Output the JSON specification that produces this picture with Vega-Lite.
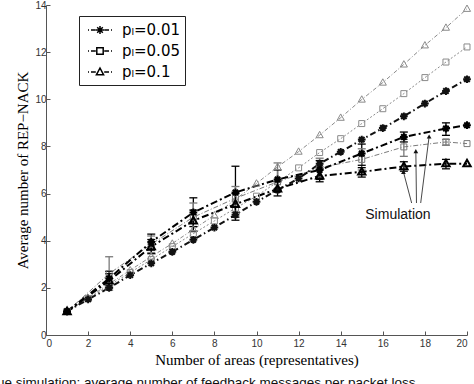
{
  "$schema": "https://vega.github.io/schema/vega-lite/v6.json",
  "width": 421,
  "height": 330,
  "autosize": "none",
  "padding": {"left": 46, "top": 5, "right": 7, "bottom": 49},
  "background": "white",
  "title": {
    "text": "ue simulation: average number of feedback messages per packet loss",
    "orient": "bottom",
    "anchor": "start",
    "dx": -19,
    "offset": 9,
    "font": "Liberation Sans",
    "fontSize": 13.5,
    "fontWeight": "normal",
    "color": "#111"
  },
  "config": {
    "view": {"stroke": null},
    "axis": {
      "grid": false,
      "domainColor": "#555",
      "tickColor": "#555",
      "labelFont": "Liberation Sans",
      "labelFontSize": 10,
      "labelColor": "#333",
      "titleFont": "Liberation Serif",
      "titleFontSize": 15,
      "titleFontWeight": "normal",
      "titleColor": "#000"
    }
  },
  "datasets": {
    "curves": [
      {"id": "a01", "x": 1, "y": 1}, {"id": "a01", "x": 2, "y": 1.51}, {"id": "a01", "x": 3, "y": 2.0}, {"id": "a01", "x": 4, "y": 2.54}, {"id": "a01", "x": 5, "y": 3.04}, {"id": "a01", "x": 6, "y": 3.53}, {"id": "a01", "x": 7, "y": 4.04}, {"id": "a01", "x": 8, "y": 4.56}, {"id": "a01", "x": 9, "y": 5.1}, {"id": "a01", "x": 10, "y": 5.65}, {"id": "a01", "x": 11, "y": 6.15}, {"id": "a01", "x": 12, "y": 6.64}, {"id": "a01", "x": 13, "y": 7.27}, {"id": "a01", "x": 14, "y": 7.77}, {"id": "a01", "x": 15, "y": 8.29}, {"id": "a01", "x": 16, "y": 8.78}, {"id": "a01", "x": 17, "y": 9.28}, {"id": "a01", "x": 18, "y": 9.82}, {"id": "a01", "x": 19, "y": 10.35}, {"id": "a01", "x": 20, "y": 10.85},
      {"id": "a05", "x": 1, "y": 1}, {"id": "a05", "x": 2, "y": 1.55}, {"id": "a05", "x": 3, "y": 2.1}, {"id": "a05", "x": 4, "y": 2.65}, {"id": "a05", "x": 5, "y": 3.2}, {"id": "a05", "x": 6, "y": 3.75}, {"id": "a05", "x": 7, "y": 4.3}, {"id": "a05", "x": 8, "y": 4.84}, {"id": "a05", "x": 9, "y": 5.38}, {"id": "a05", "x": 10, "y": 5.89}, {"id": "a05", "x": 11, "y": 6.5}, {"id": "a05", "x": 12, "y": 7.09}, {"id": "a05", "x": 13, "y": 7.74}, {"id": "a05", "x": 14, "y": 8.33}, {"id": "a05", "x": 15, "y": 8.97}, {"id": "a05", "x": 16, "y": 9.6}, {"id": "a05", "x": 17, "y": 10.24}, {"id": "a05", "x": 18, "y": 10.92}, {"id": "a05", "x": 19, "y": 11.58}, {"id": "a05", "x": 20, "y": 12.22},
      {"id": "a10", "x": 1, "y": 1}, {"id": "a10", "x": 2, "y": 1.58}, {"id": "a10", "x": 3, "y": 2.17}, {"id": "a10", "x": 4, "y": 2.75}, {"id": "a10", "x": 5, "y": 3.33}, {"id": "a10", "x": 6, "y": 3.88}, {"id": "a10", "x": 7, "y": 4.48}, {"id": "a10", "x": 8, "y": 5.08}, {"id": "a10", "x": 9, "y": 5.75}, {"id": "a10", "x": 10, "y": 6.43}, {"id": "a10", "x": 11, "y": 7.13}, {"id": "a10", "x": 12, "y": 7.78}, {"id": "a10", "x": 13, "y": 8.48}, {"id": "a10", "x": 14, "y": 9.22}, {"id": "a10", "x": 15, "y": 9.99}, {"id": "a10", "x": 16, "y": 10.71}, {"id": "a10", "x": 17, "y": 11.48}, {"id": "a10", "x": 18, "y": 12.29}, {"id": "a10", "x": 19, "y": 13.04}, {"id": "a10", "x": 20, "y": 13.84},
      {"id": "s01", "x": 1, "y": 1}, {"id": "s01", "x": 3, "y": 2.4}, {"id": "s01", "x": 5, "y": 3.95}, {"id": "s01", "x": 7, "y": 5.2}, {"id": "s01", "x": 9, "y": 6.05}, {"id": "s01", "x": 11, "y": 6.6}, {"id": "s01", "x": 13, "y": 7.0}, {"id": "s01", "x": 15, "y": 7.7}, {"id": "s01", "x": 17, "y": 8.4}, {"id": "s01", "x": 19, "y": 8.76}, {"id": "s01", "x": 20, "y": 8.9},
      {"id": "s05", "x": 1, "y": 1}, {"id": "s05", "x": 3, "y": 2.6}, {"id": "s05", "x": 5, "y": 3.85}, {"id": "s05", "x": 7, "y": 5.0}, {"id": "s05", "x": 9, "y": 5.8}, {"id": "s05", "x": 11, "y": 6.5}, {"id": "s05", "x": 13, "y": 7.1}, {"id": "s05", "x": 15, "y": 7.45}, {"id": "s05", "x": 17, "y": 7.98}, {"id": "s05", "x": 19, "y": 8.19}, {"id": "s05", "x": 20, "y": 8.12},
      {"id": "s10", "x": 1, "y": 1}, {"id": "s10", "x": 3, "y": 2.3}, {"id": "s10", "x": 5, "y": 3.75}, {"id": "s10", "x": 7, "y": 4.85}, {"id": "s10", "x": 9, "y": 5.55}, {"id": "s10", "x": 11, "y": 6.2}, {"id": "s10", "x": 13, "y": 6.75}, {"id": "s10", "x": 15, "y": 6.92}, {"id": "s10", "x": 17, "y": 7.15}, {"id": "s10", "x": 19, "y": 7.27}, {"id": "s10", "x": 20, "y": 7.27}
    ],
    "errs": [
      {"id": "s01", "x": 3, "lo": 2.1, "hi": 2.7}, {"id": "s01", "x": 5, "lo": 3.6, "hi": 4.28}, {"id": "s01", "x": 7, "lo": 4.6, "hi": 5.82}, {"id": "s01", "x": 9, "lo": 4.87, "hi": 7.16}, {"id": "s01", "x": 11, "lo": 6.2, "hi": 7.0}, {"id": "s01", "x": 13, "lo": 6.6, "hi": 7.4}, {"id": "s01", "x": 15, "lo": 7.2, "hi": 8.1}, {"id": "s01", "x": 17, "lo": 8.19, "hi": 8.61}, {"id": "s01", "x": 19, "lo": 8.47, "hi": 9.0},
      {"id": "s05", "x": 3, "lo": 1.9, "hi": 3.32}, {"id": "s05", "x": 5, "lo": 3.5, "hi": 4.2}, {"id": "s05", "x": 7, "lo": 4.4, "hi": 5.6}, {"id": "s05", "x": 9, "lo": 5.2, "hi": 6.3}, {"id": "s05", "x": 11, "lo": 6.1, "hi": 7.3}, {"id": "s05", "x": 13, "lo": 6.7, "hi": 7.5}, {"id": "s05", "x": 15, "lo": 7.0, "hi": 7.9}, {"id": "s05", "x": 17, "lo": 7.58, "hi": 8.3}, {"id": "s05", "x": 19, "lo": 8.05, "hi": 8.3},
      {"id": "s10", "x": 3, "lo": 2.0, "hi": 2.6}, {"id": "s10", "x": 5, "lo": 3.45, "hi": 4.05}, {"id": "s10", "x": 7, "lo": 4.4, "hi": 5.3}, {"id": "s10", "x": 9, "lo": 5.0, "hi": 6.0}, {"id": "s10", "x": 11, "lo": 5.9, "hi": 6.5}, {"id": "s10", "x": 13, "lo": 6.5, "hi": 7.05}, {"id": "s10", "x": 15, "lo": 6.7, "hi": 7.1}, {"id": "s10", "x": 17, "lo": 6.95, "hi": 7.35}, {"id": "s10", "x": 19, "lo": 7.05, "hi": 7.45}
    ],
    "arrows": [
      {"x": 17.37, "y": 5.6, "x2": 16.98, "y2": 6.92},
      {"x": 17.6, "y": 5.6, "x2": 17.57, "y2": 7.8},
      {"x": 17.8, "y": 5.6, "x2": 18.2, "y2": 8.42}
    ],
    "notes": [{"label": "Simulation", "x": 16.72, "y": 5.08}],
    "keys": [
      {"series": "pₗ=0.01", "x": 1, "y": 1},
      {"series": "pₗ=0.05", "x": 1, "y": 1},
      {"series": "pₗ=0.1", "x": 1, "y": 1}
    ]
  },
  "resolve": {"scale": {"shape": "independent"}},
  "layer": [
    {
      "data": {"name": "curves"},
      "transform": [{"filter": "indexof(['a05','a10','s05'], datum.id) >= 0"}],
      "mark": {"type": "line", "strokeWidth": 1},
      "encoding": {
        "x": {"field": "x", "type": "quantitative", "scale": {"domain": [0, 20], "nice": false},
              "axis": {"values": [0,2,4,6,8,10,12,14,16,18,20], "tickSize": -4, "labelPadding": 7, "title": "Number of areas (representatives)", "titlePadding": 4}},
        "y": {"field": "y", "type": "quantitative", "scale": {"domain": [0, 14], "nice": false},
              "axis": {"values": [0,2,4,6,8,10,12,14], "tickSize": -4, "labelPadding": 4, "title": "Average number of REP−NACK", "titlePadding": 4}},
        "detail": {"field": "id"},
        "color": {"field": "id", "scale": {"domain": ["a01","a05","a10","s01","s05","s10"], "range": ["#111","#8a8a8a","#8a8a8a","#000","#7a7a7a","#000"]}, "legend": null},
        "strokeDash": {"field": "id", "scale": {"domain": ["a01","a05","a10","s01","s05","s10"], "range": [[6,3,1.5,3],[2,2],[4,2,1,2],[7,3,2,3],[5,2,1,2],[7,3,2,3]]}, "legend": null}
      }
    },
    {
      "data": {"name": "curves"},
      "transform": [{"filter": "indexof(['a01','s01','s10'], datum.id) >= 0"}],
      "mark": {"type": "line", "strokeWidth": 2},
      "encoding": {
        "x": {"field": "x", "type": "quantitative", "scale": {"domain": [0, 20], "nice": false}},
        "y": {"field": "y", "type": "quantitative", "scale": {"domain": [0, 14], "nice": false}},
        "detail": {"field": "id"},
        "color": {"field": "id", "scale": {"domain": ["a01","a05","a10","s01","s05","s10"], "range": ["#111","#8a8a8a","#8a8a8a","#000","#7a7a7a","#000"]}, "legend": null},
        "strokeDash": {"field": "id", "scale": {"domain": ["a01","a05","a10","s01","s05","s10"], "range": [[6,3,1.5,3],[2,2],[4,2,1,2],[7,3,2,3],[5,2,1,2],[7,3,2,3]]}, "legend": null}
      }
    },
    {
      "data": {"name": "errs"},
      "mark": {"type": "rule", "strokeWidth": 1.3},
      "encoding": {
        "x": {"field": "x", "type": "quantitative", "scale": {"domain": [0, 20], "nice": false}},
        "y": {"field": "lo", "type": "quantitative", "scale": {"domain": [0, 14], "nice": false}},
        "y2": {"field": "hi"},
        "color": {"field": "id", "scale": {"domain": ["a01","a05","a10","s01","s05","s10"], "range": ["#111","#8a8a8a","#8a8a8a","#000","#7a7a7a","#000"]}, "legend": null}
      }
    },
    {
      "data": {"name": "errs"},
      "mark": {"type": "point", "shape": "stroke", "size": 64, "strokeWidth": 1.3, "opacity": 1},
      "encoding": {
        "x": {"field": "x", "type": "quantitative", "scale": {"domain": [0, 20], "nice": false}},
        "y": {"field": "lo", "type": "quantitative", "scale": {"domain": [0, 14], "nice": false}},
        "color": {"field": "id", "scale": {"domain": ["a01","a05","a10","s01","s05","s10"], "range": ["#111","#8a8a8a","#8a8a8a","#000","#7a7a7a","#000"]}, "legend": null}
      }
    },
    {
      "data": {"name": "errs"},
      "mark": {"type": "point", "shape": "stroke", "size": 64, "strokeWidth": 1.3, "opacity": 1},
      "encoding": {
        "x": {"field": "x", "type": "quantitative", "scale": {"domain": [0, 20], "nice": false}},
        "y": {"field": "hi", "type": "quantitative", "scale": {"domain": [0, 14], "nice": false}},
        "color": {"field": "id", "scale": {"domain": ["a01","a05","a10","s01","s05","s10"], "range": ["#111","#8a8a8a","#8a8a8a","#000","#7a7a7a","#000"]}, "legend": null}
      }
    },
    {
      "data": {"name": "curves"},
      "transform": [{"filter": "indexof(['a05','a10','s05'], datum.id) >= 0"}],
      "mark": {"type": "point", "filled": false, "size": 56, "strokeWidth": 1, "opacity": 1},
      "encoding": {
        "x": {"field": "x", "type": "quantitative", "scale": {"domain": [0, 20], "nice": false}},
        "y": {"field": "y", "type": "quantitative", "scale": {"domain": [0, 14], "nice": false}},
        "color": {"field": "id", "scale": {"domain": ["a01","a05","a10","s01","s05","s10"], "range": ["#111","#8a8a8a","#8a8a8a","#000","#7a7a7a","#000"]}, "legend": null},
        "shape": {"field": "id", "scale": {"domain": ["a01","a05","a10","s01","s05","s10"], "range": ["M0,-1L0,1M-1,0L1,0M-0.7,-0.7L0.7,0.7M-0.7,0.7L0.7,-0.7", "M-0.8,-0.8L0.8,-0.8L0.8,0.8L-0.8,0.8Z", "M0,-1L0.95,0.7L-0.95,0.7Z", "M0,-1L0,1M-1,0L1,0M-0.7,-0.7L0.7,0.7M-0.7,0.7L0.7,-0.7", "M-0.8,-0.8L0.8,-0.8L0.8,0.8L-0.8,0.8Z", "M0,-1L0.95,0.7L-0.95,0.7Z"]}, "legend": null}
      }
    },
    {
      "data": {"name": "curves"},
      "transform": [{"filter": "indexof(['a01','s01','s10'], datum.id) >= 0"}],
      "mark": {"type": "point", "filled": false, "size": 60, "strokeWidth": 2, "opacity": 1},
      "encoding": {
        "x": {"field": "x", "type": "quantitative", "scale": {"domain": [0, 20], "nice": false}},
        "y": {"field": "y", "type": "quantitative", "scale": {"domain": [0, 14], "nice": false}},
        "color": {"field": "id", "scale": {"domain": ["a01","a05","a10","s01","s05","s10"], "range": ["#111","#8a8a8a","#8a8a8a","#000","#7a7a7a","#000"]}, "legend": null},
        "shape": {"field": "id", "scale": {"domain": ["a01","a05","a10","s01","s05","s10"], "range": ["M0,-1L0,1M-1,0L1,0M-0.7,-0.7L0.7,0.7M-0.7,0.7L0.7,-0.7", "M-0.8,-0.8L0.8,-0.8L0.8,0.8L-0.8,0.8Z", "M0,-1L0.95,0.7L-0.95,0.7Z", "M0,-1L0,1M-1,0L1,0M-0.7,-0.7L0.7,0.7M-0.7,0.7L0.7,-0.7", "M-0.8,-0.8L0.8,-0.8L0.8,0.8L-0.8,0.8Z", "M0,-1L0.95,0.7L-0.95,0.7Z"]}, "legend": null}
      }
    },
    {
      "data": {"name": "arrows"},
      "mark": {"type": "rule", "color": "#333", "strokeWidth": 0.9},
      "encoding": {
        "x": {"field": "x", "type": "quantitative", "scale": {"domain": [0, 20], "nice": false}},
        "y": {"field": "y", "type": "quantitative", "scale": {"domain": [0, 14], "nice": false}},
        "x2": {"field": "x2"},
        "y2": {"field": "y2"}
      }
    },
    {
      "data": {"name": "arrows"},
      "mark": {"type": "point", "shape": "triangle-up", "filled": true, "size": 22, "color": "#111", "opacity": 1},
      "encoding": {
        "x": {"field": "x2", "type": "quantitative", "scale": {"domain": [0, 20], "nice": false}},
        "y": {"field": "y2", "type": "quantitative", "scale": {"domain": [0, 14], "nice": false}}
      }
    },
    {
      "data": {"name": "notes"},
      "mark": {"type": "text", "font": "Liberation Sans", "fontSize": 14, "color": "#111", "align": "center", "baseline": "middle"},
      "encoding": {
        "x": {"field": "x", "type": "quantitative", "scale": {"domain": [0, 20], "nice": false}},
        "y": {"field": "y", "type": "quantitative", "scale": {"domain": [0, 14], "nice": false}},
        "text": {"field": "label"}
      }
    },
    {
      "data": {"name": "keys"},
      "mark": {"type": "point", "filled": false, "opacity": 0, "color": "#000"},
      "encoding": {
        "x": {"field": "x", "type": "quantitative", "scale": {"domain": [0, 20], "nice": false}},
        "y": {"field": "y", "type": "quantitative", "scale": {"domain": [0, 14], "nice": false}},
        "shape": {
          "field": "series",
          "scale": {
            "domain": ["pₗ=0.01", "pₗ=0.05", "pₗ=0.1"],
            "range": [
              "M-0.625,0L-0.5,0M-0.25,0L0.35,0M0.875,-0.5L0.875,0.5M0.375,0L1.375,0M0.525,-0.35L1.225,0.35M0.525,0.35L1.225,-0.35M1.4,0L2.0,0M2.25,0L2.375,0",
              "M-0.625,0L-0.5,0M-0.25,0L0.35,0M0.475,-0.4L1.275,-0.4L1.275,0.4L0.475,0.4ZM1.4,0L2.0,0M2.25,0L2.375,0",
              "M-0.625,0L-0.5,0M-0.25,0L0.35,0M0.875,-0.5L1.325,0.35L0.425,0.35ZM1.4,0L2.0,0M2.25,0L2.375,0"
            ]
          },
          "legend": {
            "title": null,
            "orient": "none",
            "legendX": 33,
            "legendY": 11,
            "padding": 5,
            "strokeColor": "#222",
            "fillColor": "white",
            "symbolSize": 256,
            "rowPadding": 4,
            "labelOffset": 20,
            "labelFont": "DejaVu Sans",
            "labelFontSize": 15,
            "labelColor": "#000",
            "encode": {
              "symbols": {
                "update": {
                  "opacity": {"value": 1},
                  "fill": {"value": "transparent"},
                  "stroke": {"signal": "datum.value === 'pₗ=0.01' ? '#000' : '#777'"},
                  "strokeWidth": {"signal": "datum.value === 'pₗ=0.01' ? 2 : 1"}
                }
              }
            }
          }
        }
      }
    }
  ]
}
